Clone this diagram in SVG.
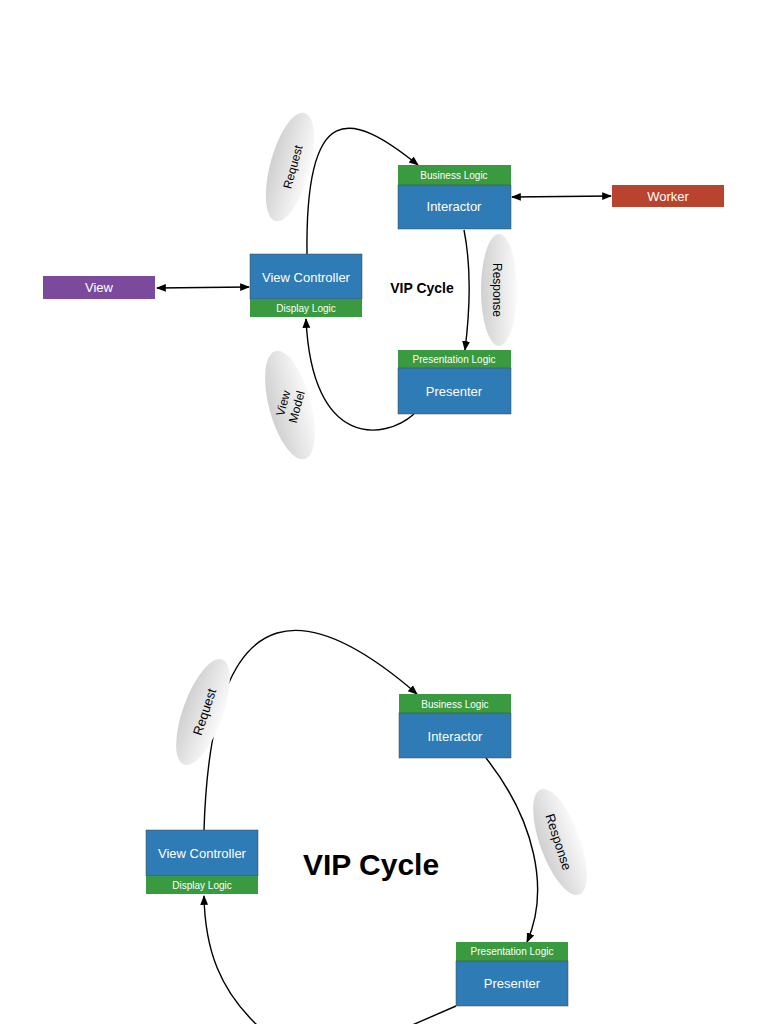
<svg xmlns="http://www.w3.org/2000/svg" width="768" height="1024" viewBox="0 0 768 1024">
<defs>
<marker id="a" viewBox="0 0 10 10" refX="9" refY="5" markerWidth="7" markerHeight="7" orient="auto-start-reverse"><path d="M0,1 L10,5 L0,9 z" fill="#000"/></marker>
<linearGradient id="g" x1="0" y1="0" x2="1" y2="0"><stop offset="0" stop-color="#d0d0d0"/><stop offset="1" stop-color="#fafafa"/></linearGradient>
</defs>
<style>
.b{fill:#2f7bb5;stroke:#444;stroke-width:0.5}.gr{fill:#3a9a40}
.t{font-family:"Liberation Sans",Arial,sans-serif;fill:#fff;text-anchor:middle}
.e{fill:url(#g)}.l{font-family:"Liberation Sans",Arial,sans-serif;fill:#000;text-anchor:middle}
.c{fill:none;stroke:#000;stroke-width:1.4}
</style>
<rect width="768" height="1024" fill="#fff"/>
<g id="connectors">
<path class="c" d="M307,254 C305,100 350,110 418,165" marker-end="url(#a)"/>
<path class="c" d="M464,230 C472,270 470,310 465,350" marker-end="url(#a)"/>
<path class="c" d="M414,414 C385,440 312,450 306,319" marker-end="url(#a)"/>
<path class="c" d="M157,288 L249,287" marker-start="url(#a)" marker-end="url(#a)"/>
<path class="c" d="M512,197 L611,196" marker-start="url(#a)" marker-end="url(#a)"/>
<path class="c" d="M204,830 C212,570 320,610 417,694" marker-end="url(#a)"/>
<path class="c" d="M486,758 C535,820 550,890 527,942" marker-end="url(#a)"/>
<path class="c" d="M456,1006 L410,1026"/>
<path class="c" d="M258,1026 C220,990 205,950 204,896" marker-end="url(#a)"/>
</g>
<g id="ellipses">
<ellipse class="e" cx="290" cy="167" rx="20" ry="56" transform="rotate(15 290 167)"/>
<text class="l" font-size="12" transform="translate(293,167) rotate(-75)" dy="4">Request</text>
<ellipse class="e" cx="499" cy="290" rx="18" ry="56"/>
<text class="l" font-size="12" transform="translate(497,290) rotate(90)" dy="4">Response</text>
<ellipse class="e" cx="290" cy="405" rx="21" ry="56" transform="rotate(-15 290 405)"/>
<text class="l" font-size="12" transform="translate(290,405) rotate(-75)"><tspan x="0" dy="-3">View</tspan><tspan x="0" dy="14">Model</tspan></text>
<ellipse class="e" cx="203" cy="712" rx="20" ry="56" transform="rotate(20 203 712)"/>
<text class="l" font-size="13" transform="translate(205,712) rotate(-72)" dy="4">Request</text>
<ellipse class="e" cx="560" cy="842" rx="20" ry="56" transform="rotate(-20 560 842)"/>
<text class="l" font-size="13" transform="translate(558,842) rotate(72)" dy="4">Response</text>
</g>
<g id="view"><rect x="43" y="276" width="112" height="23" fill="#7b4a9c"/><text class="t" x="99" y="292" font-size="13">View</text></g>
<g id="worker"><rect x="612" y="185" width="112" height="22" fill="#b8432f"/><text class="t" x="668" y="201" font-size="13">Worker</text></g>
<g id="vc1"><rect class="b" x="250" y="254" width="112" height="45"/><rect class="gr" x="250" y="299" width="112" height="18"/><text class="t" x="306" y="282" font-size="13">View Controller</text><text class="t" x="306" y="312" font-size="10">Display Logic</text></g>
<g id="int1"><rect class="gr" x="398" y="165" width="113" height="20"/><rect class="b" x="398" y="185" width="113" height="44"/><text class="t" x="454" y="179" font-size="10">Business Logic</text><text class="t" x="454" y="211" font-size="13">Interactor</text></g>
<g id="pre1"><rect class="gr" x="398" y="350" width="113" height="18"/><rect class="b" x="398" y="368" width="113" height="46"/><text class="t" x="454" y="363" font-size="10">Presentation Logic</text><text class="t" x="454" y="396" font-size="13">Presenter</text></g>
<text class="l" x="422" y="293" font-size="14" font-weight="bold">VIP Cycle</text>
<g id="vc2"><rect class="b" x="146" y="830" width="112" height="46"/><rect class="gr" x="146" y="876" width="112" height="18"/><text class="t" x="202" y="858" font-size="13">View Controller</text><text class="t" x="202" y="889" font-size="10">Display Logic</text></g>
<g id="int2"><rect class="gr" x="399" y="694" width="112" height="19"/><rect class="b" x="399" y="713" width="112" height="45"/><text class="t" x="455" y="708" font-size="10">Business Logic</text><text class="t" x="455" y="741" font-size="13">Interactor</text></g>
<g id="pre2"><rect class="gr" x="456" y="942" width="112" height="19"/><rect class="b" x="456" y="961" width="112" height="45"/><text class="t" x="512" y="955" font-size="10">Presentation Logic</text><text class="t" x="512" y="988" font-size="13">Presenter</text></g>
<text class="l" x="371" y="875" font-size="30" font-weight="bold">VIP Cycle</text>
</svg>
